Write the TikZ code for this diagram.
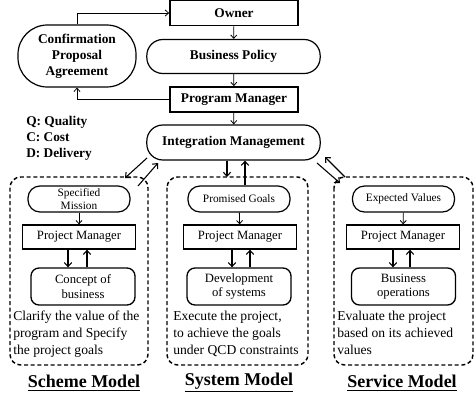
\documentclass[tikz,border=0pt]{standalone}
\usepackage{fontspec}
\setmainfont{Liberation Serif}
\usetikzlibrary{arrows.meta}

\tikzset{
  topbox/.style={draw, line width=1.3pt, minimum width=96pt, minimum height=18.75pt, font=\fontsize{10}{12}\selectfont\bfseries},
  topround/.style={draw, line width=0.9pt, rounded corners=12pt, minimum width=130pt, minimum height=25.5pt, font=\fontsize{10}{12}\selectfont\bfseries},
  goal/.style={draw, line width=0.9pt, rounded corners=9pt, minimum width=76.5pt, minimum height=19.5pt, inner sep=0pt, align=center, font=\fontsize{8.5}{9.5}\selectfont},
  pmbox/.style={draw, line width=1pt, minimum width=85pt, minimum height=18pt, font=\fontsize{9.5}{11}\selectfont},
  workbox/.style={draw, line width=1pt, rounded corners=6pt, minimum width=78pt, minimum height=27.75pt, inner sep=1pt, align=center, font=\fontsize{9.5}{11}\selectfont},
  modelbox/.style={draw, line width=1.1pt, dash pattern=on 3pt off 2pt, rounded corners=8pt},
  desc/.style={anchor=north west, inner sep=0pt, align=left, font=\fontsize{10.2}{12.8}\selectfont},
  title/.style={inner sep=0pt, font=\fontsize{13.5}{16}\selectfont\bfseries},
  link/.style={-{Straight Barb[length=2.5pt,width=4.5pt]}, line width=0.6pt},
  biglink/.style={-{Straight Barb[length=3pt,width=5.5pt]}, line width=0.8pt}
}

\begin{document}
\begin{tikzpicture}[x=0.75pt,y=0.75pt,yscale=-1,xscale=1]
\useasboundingbox (0,0) rectangle (474,404);
% top chain
\node[topbox] (own) at (234,13) {Owner};
\node[topround] (bp) at (233.5,56.5) {Business Policy};
\node[topbox] (prm) at (234,99.5) {Program Manager};
\node[topround, minimum height=26.25pt] (im) at (233.5,142.5) {Integration Management};
\node[draw, line width=0.9pt, rounded corners=22pt, minimum width=88.5pt, minimum height=46.5pt, align=center, font=\fontsize{10}{12}\selectfont\bfseries] (conf) at (77,56) {Confirmation\\Proposal\\Agreement};
\draw[link] (own) -- (bp);
\draw[link] (bp) -- (prm);
\draw[link] (prm) -- (im);
\draw[link] (conf.north) -- (77,13) -- (own.west);
\draw[link] (prm.west) -- (77,99.5) -- (conf.south);
\node[anchor=north west, inner sep=0pt, align=left, font=\fontsize{10}{12}\selectfont\bfseries] (qcd) at (26,116) {Q: Quality\\C: Cost\\D: Delivery};

% model boxes
\draw[modelbox] (10,177) rectangle (148,365);
\draw[modelbox] (167,177) rectangle (308,365);
\draw[modelbox] (334,177) rectangle (473,365);

% scheme model
\node[goal] (mis) at (79,199) {Specified\\Mission};
\node[pmbox] (pm1) at (79,237) {Project Manager};
\node[workbox] (cb) at (83,286.5) {Concept of\\business};
\draw[link] (mis) -- (pm1);
\draw[biglink] (pm1.south -| 68,0) -- (cb.north -| 68,0);
\draw[biglink] (cb.north -| 87,0) -- (pm1.south -| 87,0);
\node[desc] (d1) at (13,311) {Clarify the value of the\\program and Specify\\the project goals};
\node[title] (t1) at (84,383) {\underline{Scheme Model}};

% system model
\node[goal] (pg) at (239,199) {Promised Goals};
\node[pmbox] (pm2) at (240,237) {Project Manager};
\node[workbox] (ds) at (239,286.5) {Development\\of systems};
\draw[link] (pg) -- (pm2);
\draw[biglink] (pm2.south -| 232,0) -- (ds.north -| 232,0);
\draw[biglink] (ds.north -| 250,0) -- (pm2.south -| 250,0);
\node[desc] (d2) at (173,311) {Execute the project,\\to achieve the goals\\under QCD constraints};
\node[title] (t2) at (239,383) {\underline{System Model}};

% service model
\node[goal] (ev) at (403.5,199) {Expected Values};
\node[pmbox] (pm3) at (403,237) {Project Manager};
\node[workbox] (bo) at (403.5,286.5) {Business\\operations};
\draw[link] (ev) -- (pm3);
\draw[biglink] (pm3.south -| 393,0) -- (bo.north -| 393,0);
\draw[biglink] (bo.north -| 410,0) -- (pm3.south -| 410,0);
\node[desc] (d3) at (337,311) {Evaluate the project\\based on its achieved\\values};
\node[title] (t3) at (402,383) {\underline{Service Model}};

% links to integration management
\coordinate (s1) at (125,178);
\coordinate (s2) at (138,186);
\coordinate (s3) at (158,163);
\coordinate (s4) at (147,158);
\draw[biglink] (s4) -- (s1);
\draw[biglink] (s2) -- (s3);
\draw[biglink] (im.south -| 227,0) -- (227,177);
\draw[biglink] (pg.north -| 245,0) -- (im.south -| 245,0);
\coordinate (v1) at (317,163);
\coordinate (v2) at (340,183);
\coordinate (v3) at (345,177);
\coordinate (v4) at (325,157);
\draw[biglink] (v1) -- (v2);
\draw[biglink] (v3) -- (v4);
\end{tikzpicture}
\end{document}
